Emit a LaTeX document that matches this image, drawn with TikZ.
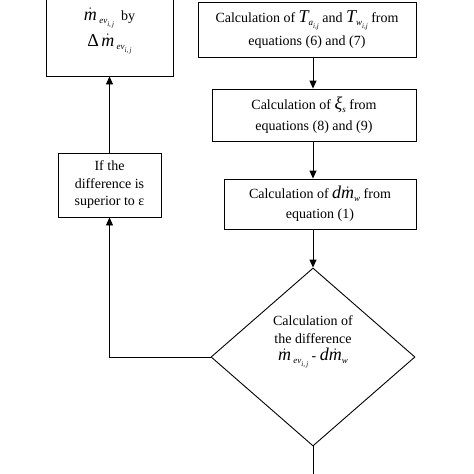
\documentclass[tikz,border=0pt]{standalone}
\usepackage{fontspec}
\setmainfont{Liberation Serif}
\usetikzlibrary{shapes.geometric,arrows.meta}
\newcommand\mybig[1]{{\fontsize{18}{18}\selectfont\itshape #1}}
\newcommand\mysmall[1]{{\fontsize{9}{9}\selectfont\itshape #1}}
\newcommand\mytiny[1]{{\fontsize{7}{7}\selectfont\itshape #1}}
\newcommand\mysub[1]{\raisebox{-3pt}{\mysmall{#1}}}
\newcommand\mysubsub[1]{\raisebox{-3pt}{\mytiny{#1}}}
\newcommand\mmdot{$\dot{\hbox{\mybig{m}}}$}
\newcommand\mev{\mmdot\,\mysub{ev\mysubsub{i,\,j}}}
\begin{document}
\begin{tikzpicture}[x=1pt,y=-1pt,
  box/.style={draw,line width=0.9pt,align=center,inner sep=0pt},
  arr/.style={line width=0.9pt,-{Triangle[length=8pt,width=7pt]}},
  ln/.style={line width=0.9pt}]
\path[use as bounding box, clip] (0,0) rectangle (474,474);
\node[box,minimum width=127pt,minimum height=90pt,font=\fontsize{14}{22}\selectfont] (left) at (109.5,31)
  {\mev\ \ by\\[4pt]\mybig{\upshape Δ}\,\mev};
\node[box,minimum width=218pt,minimum height=55pt,font=\fontsize{14}{21}\selectfont] (top) at (307,29.5)
  {Calculation of \mybig{T}\mysub{a\mysubsub{i,j}} and \mybig{T}\mysub{w\mysubsub{i,j}} from\\[2pt]equations (6) and (7)};
\node[box,minimum width=204pt,minimum height=52pt,font=\fontsize{14}{21}\selectfont] (xi) at (314,115)
  {Calculation of \mybig{ξ}\mysub{s} from\\equations (8) and (9)};
\node[box,minimum width=192pt,minimum height=50pt,font=\fontsize{14}{20}\selectfont] (dm) at (320,204)
  {Calculation of \mybig{d}\mmdot\mysub{w} from\\equation (1)};
\node[box,minimum width=103pt,minimum height=64pt,font=\fontsize{14}{17.5}\selectfont] (ifb) at (109.5,185)
  {If the\\difference is\\superior to ε};
\node[draw,diamond,line width=0.9pt,inner sep=0pt,minimum width=204pt,minimum height=178pt] (dia) at (313,357) {};
\node[align=center,inner sep=0pt,font=\fontsize{14}{17.5}\selectfont] (diatext) at (313,342)
  {Calculation of\\the difference\\\mev\ - \mybig{d}\mmdot\mysub{w}};
\coordinate (end) at (313,480);
\draw[arr] (top.south -| dia.north) -- (xi.north -| dia.north);
\draw[arr] (xi.south -| dia.north) -- (dm.north -| dia.north);
\draw[arr] (dm.south -| dia.north) -- (dia.north);
\draw[ln] (dia.south) -- (end);
\draw[arr] (dia.west) -| (ifb.south);
\draw[arr] (ifb.north) -- (left.south);
\end{tikzpicture}
\end{document}
